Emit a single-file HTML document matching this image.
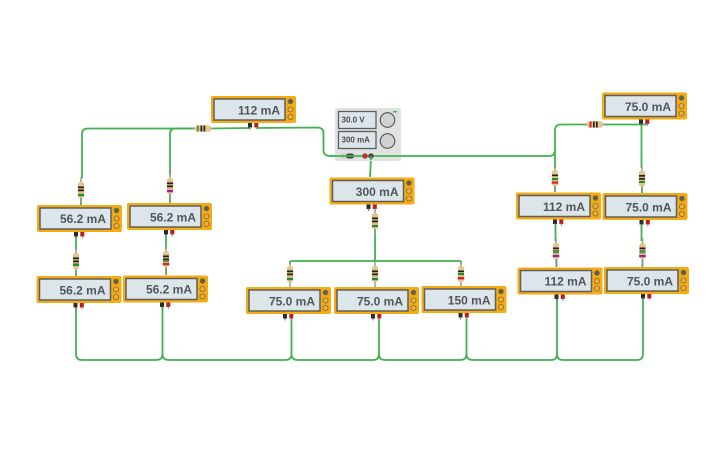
<!DOCTYPE html>
<html><head><meta charset="utf-8"><style>
html,body{margin:0;padding:0;background:#fff}
svg{display:block}
.w{fill:none;stroke:#3fb34f;stroke-width:1.8}
.t{font:bold 12px "Liberation Sans",sans-serif;fill:#50565a;text-anchor:end}
.p{font:bold 8px "Liberation Sans",sans-serif;fill:#4c4c4c}
</style></head><body>
<svg width="725" height="453" viewBox="0 0 725 453" xmlns="http://www.w3.org/2000/svg">
<defs>
<g id="m">
<rect x="0" y="0" width="85" height="27" rx="2" fill="#f7ab13"/>
<rect x="3" y="3" width="71" height="21" fill="#dce6ea" stroke="#5a6062" stroke-width="1.500"/>
<circle cx="79.500" cy="5.500" r="2.800" fill="#5f5f50" stroke="#c99a20" stroke-width=".6"/>
<circle cx="79.500" cy="13.500" r="2.600" fill="#f2b030" stroke="#7a6a3a" stroke-width=".8"/>
<circle cx="79.500" cy="21" r="2.600" fill="#f2b030" stroke="#7a6a3a" stroke-width=".8"/>
<rect x="37" y="27" width="4" height="4.500" fill="#2c2c2c"/><rect x="38.500" y="31" width="1.100" height="2.500" fill="#777"/>
<rect x="43.300" y="27" width="4" height="4.500" fill="#b8201f"/><rect x="44.800" y="31" width="1.100" height="2.500" fill="#999"/>
</g>
<g id="r">
<rect x="-.7" y="-5" width="1.400" height="26" fill="#8a9a90"/>
<rect x="-3.200" y="0" width="6.400" height="16" rx="2.600" fill="#e3c68e"/>
<rect x="-2.700" y="3.500" width="5.400" height="9" fill="#d9ba7f"/>
<rect x="-3" y="4.500" width="6" height="1.700" fill="#222"/>
<rect x="-3" y="7.500" width="6" height="1.700" fill="#222"/>
</g>
</defs>

<!-- wires -->
<path class="w" d="M82 178V134Q82 128.500 88 128.500H195"/>
<path class="w" d="M170 175V134Q170 128.500 176 128.500H196"/>
<path class="w" d="M211 128.500L250 128"/>
<path class="w" d="M256 128L318 127.500Q323.500 128 323.500 133V150Q323.500 156 330 156H549Q555 156 555 150V130Q555 124.500 561 124.500H587"/>
<path class="w" d="M555 150V168"/>
<path class="w" d="M603 124.500H647"/>
<path class="w" d="M641.500 124V168"/>
<path class="w" d="M371 158L370 177"/>
<path class="w" d="M375 229V261"/>
<path class="w" d="M290 261H461"/>
<path class="w" d="M290 261V264M461 261V264"/>
<path class="w" d="M76 236V250M76 270V276"/>
<path class="w" d="M166 234V249M166 268V275"/>
<path class="w" d="M81 198V205M170 194V203"/>
<path class="w" d="M555 186V192M642 186V193"/>
<path class="w" d="M555.500 224V241M556.500 259V267M641.500 224V241M642.500 259V267"/>
<path class="w" d="M76 307V354Q76 360 82 360H156Q162.500 360 162.500 354V306"/>
<path class="w" d="M162.500 354Q162.500 360 169 360H285Q291.500 360 291.500 354V318"/>
<path class="w" d="M291.500 354Q291.500 360 298 360H373Q379 360 379 354V318"/>
<path class="w" d="M379 354Q379 360 385 360H460Q466.500 360 466.500 354V317"/>
<path class="w" d="M466.500 354Q466.500 360 473 360H551Q557 360 557 354V298"/>
<path class="w" d="M557 354Q557 360 563 360H637Q643 360 643 354V298"/>

<!-- power supply -->
<rect x="335" y="108" width="66" height="53" rx="2" fill="#e0e2e1"/>
<rect x="338.500" y="111.500" width="37.500" height="17" fill="#dce6ea" stroke="#5a6062" stroke-width="1.300"/>
<rect x="338.500" y="131.500" width="37.500" height="17" fill="#dce6ea" stroke="#5a6062" stroke-width="1.300"/>
<text class="p" x="341.500" y="122.700">30.0 V</text>
<text class="p" x="341.500" y="142.700">300 mA</text>
<circle cx="387.500" cy="120" r="7.300" fill="#cfd2d2" stroke="#555" stroke-width="1.100"/>
<circle cx="387.500" cy="141" r="7.300" fill="#cfd2d2" stroke="#555" stroke-width="1.100"/>
<rect x="393" y="111" width="4" height="1.500" fill="#3fb34f"/>
<rect x="340" y="153.500" width="16" height="5" rx="2.500" fill="#cfcfcf"/>
<rect x="346" y="153.500" width="8" height="5" rx="2.500" fill="#444"/>
<path class="w" d="M330 156H401"/>
<circle cx="365" cy="156" r="2.700" fill="#b8302f"/>
<circle cx="371" cy="156" r="2.700" fill="#444"/>
<path class="w" d="M371 156V160"/>

<!-- resistors vertical -->
<g transform="translate(81,182)"><use href="#r"/><rect x="-3" y="12" width="6" height="2.200" fill="#1f8f2f"/></g>
<g transform="translate(170,178)"><use href="#r"/><rect x="-3" y="12" width="6" height="2.200" fill="#a0209a"/></g>
<g transform="translate(76,253)"><use href="#r"/><rect x="-3" y="10.500" width="6" height="2.500" fill="#1f8f2f"/></g>
<g transform="translate(166,251)"><use href="#r"/><rect x="-3" y="9.500" width="6" height="1.500" fill="#3fa03f"/><rect x="-3.300" y="12" width="6.600" height="2.200" fill="#e02020"/></g>
<g transform="translate(375,213)"><use href="#r"/><rect x="-3" y="12" width="6" height="2.200" fill="#1f8f2f"/></g>
<g transform="translate(290,266)"><use href="#r"/><rect x="-3" y="12" width="6" height="2.200" fill="#1f8f2f"/></g>
<g transform="translate(375,266)"><use href="#r"/><rect x="-3" y="12" width="6" height="2.200" fill="#1f8f2f"/></g>
<g transform="translate(461,266)"><rect x="-.7" y="-5" width="1.400" height="26" fill="#8a9a90"/><rect x="-3.200" y="0" width="6.400" height="16" rx="2.600" fill="#e3c68e"/><rect x="-3" y="4.500" width="6" height="1.700" fill="#222"/><rect x="-3" y="7" width="6" height="2.200" fill="#1f8f2f"/><rect x="-3.300" y="11" width="6.600" height="2.400" fill="#e02020"/></g>
<g transform="translate(555,170)"><rect x="-.7" y="-5" width="1.400" height="26" fill="#8a9a90"/><rect x="-3.200" y="0" width="6.400" height="16" rx="2.600" fill="#e3c68e"/><rect x="-3" y="4.500" width="6" height="1.700" fill="#222"/><rect x="-3" y="8" width="6" height="2.200" fill="#1f8f2f"/><rect x="-3.300" y="11.500" width="6.600" height="2.200" fill="#e02020"/></g>
<g transform="translate(642,170.500)"><use href="#r"/><rect x="-3" y="10.500" width="6" height="2" fill="#1f8f2f"/></g>
<g transform="translate(556,243)"><use href="#r"/><rect x="-3" y="8" width="6" height="2.200" fill="#3fa03f"/><rect x="-3.300" y="12" width="6.600" height="2.200" fill="#a0209a"/></g>
<g transform="translate(642.500,243)"><use href="#r"/><rect x="-3" y="8" width="6" height="2.200" fill="#3fa03f"/><rect x="-3.300" y="12" width="6.600" height="2.200" fill="#a0209a"/></g>
<!-- resistors horizontal -->
<g transform="translate(195,128.500)">
<rect x="-3" y="-.7" width="22" height="1.400" fill="#8a9a90"/><rect x="0" y="-3.200" width="16" height="6.400" rx="2.600" fill="#e3c68e"/>
<rect x="2" y="-3" width="1.700" height="6" fill="#3a9a3a"/><rect x="5.500" y="-3" width="1.700" height="6" fill="#222"/><rect x="8.500" y="-3" width="1.700" height="6" fill="#222"/>
</g>
<g transform="translate(587,124.500)">
<rect x="-3" y="-.7" width="22" height="1.400" fill="#8a9a90"/><rect x="0" y="-3.200" width="16" height="6.400" rx="2.600" fill="#e3c68e"/>
<rect x="2.500" y="-3" width="2" height="6" fill="#e02020"/><rect x="6" y="-3" width="1.700" height="6" fill="#222"/><rect x="9" y="-3" width="1.700" height="6" fill="#222"/>
</g>

<!-- meters -->
<use href="#m" x="211" y="96"/><text class="t" x="280" y="114.500">112 mA</text>
<use href="#m" x="329.500" y="177.500"/><text class="t" x="398.500" y="196">300 mA</text>
<use href="#m" x="37" y="205"/><text class="t" x="106" y="223">56.2 mA</text>
<use href="#m" x="127" y="203"/><text class="t" x="196" y="221.500">56.2 mA</text>
<use href="#m" x="36.500" y="276"/><text class="t" x="105.500" y="294.500">56.2 mA</text>
<use href="#m" x="123" y="275.500"/><text class="t" x="192" y="293.500">56.2 mA</text>
<use href="#m" x="246" y="287"/><text class="t" x="315" y="305.500">75.0 mA</text>
<use href="#m" x="334" y="287"/><text class="t" x="403" y="305.500">75.0 mA</text>
<use href="#m" x="421.500" y="286"/><text class="t" x="490.500" y="304.500">150 mA</text>
<use href="#m" x="602" y="92.500"/><text class="t" x="671" y="111">75.0 mA</text>
<use href="#m" x="516" y="192.500"/><text class="t" x="585" y="211">112 mA</text>
<use href="#m" x="602.500" y="193"/><text class="t" x="671.500" y="211.500">75.0 mA</text>
<use href="#m" x="517.500" y="267.500"/><text class="t" x="586.500" y="285.500">112 mA</text>
<use href="#m" x="604" y="267"/><text class="t" x="673" y="285.500">75.0 mA</text>
</svg>
</body></html>
